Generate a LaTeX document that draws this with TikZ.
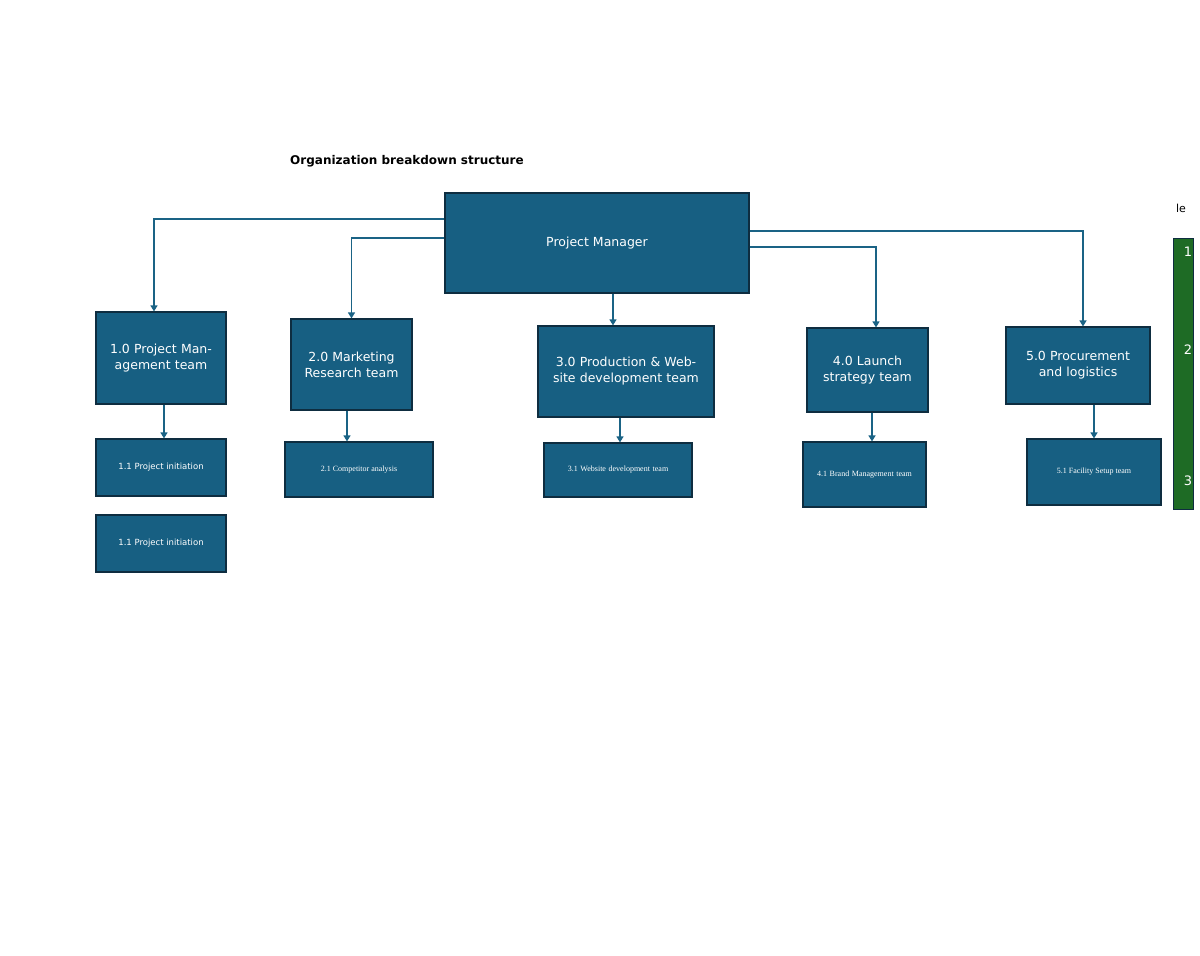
\documentclass[tikz,border=0pt]{standalone}
\usepackage{fontspec}
\setmainfont{DejaVu Sans}
\newfontfamily\serifsmall{Liberation Serif}
\usetikzlibrary{arrows.meta}
\definecolor{boxfill}{HTML}{175F82}
\definecolor{boxline}{HTML}{0E2D40}
\definecolor{conn}{HTML}{1A6385}
\definecolor{barfill}{HTML}{1E6B25}
\begin{document}
\begin{tikzpicture}[x=1pt,y=-1pt,
  box/.style={draw=boxline,line width=1.2pt,fill=boxfill,text=white,align=center,inner sep=0pt},
  arr/.style={draw=conn,line width=1.4pt,-{Triangle[length=6pt,width=7pt]}},
  big/.style={font=\fontsize{12.5}{16}\selectfont},
  sm/.style={font=\fontsize{8.5}{11}\selectfont},
  ser/.style={font=\serifsmall\fontsize{8}{11}\selectfont}]
\useasboundingbox (0,0) rectangle (1200,956);
\newcommand{\bx}[6]{\node[box,#6,minimum width=#4-#2,minimum height=#5-#3,text width=#4-#2-6] (#1) at ({(#2+#4)/2},{(#3+#5)/2}) {};}
\node[font=\bfseries\fontsize{12}{14}\selectfont] (title) at (407,161) {Organization breakdown structure};
\node[box,big,minimum width=304,minimum height=100] (pm) at (597,243) {Project Manager};
\node[box,big,minimum width=130,minimum height=92,text width=124] (a) at (161,358) {1.0 Project Management team};
\node[box,big,minimum width=121,minimum height=91,text width=115] (b) at (351.5,364.5) {2.0 Marketing Research team};
\node[box,big,minimum width=176,minimum height=91,text width=170] (c) at (626,371.5) {3.0 Production \& Website development team};
\node[box,big,minimum width=121,minimum height=84,text width=115] (d) at (867.5,370) {4.0 Launch strategy team};
\node[box,big,minimum width=144,minimum height=77,text width=138] (e) at (1078,365.5) {5.0 Procurement and logistics};
\node[box,sm,minimum width=130,minimum height=57] (a1) at (161,467.5) {1.1 Project initiation};
\node[box,sm,minimum width=130,minimum height=57] (a2) at (161,543.5) {1.1 Project initiation};
\node[box,ser,minimum width=148,minimum height=55] (b1) at (359,469.5) {2.1 Competitor analysis};
\node[box,ser,minimum width=148,minimum height=54,text width=140] (c1) at (618,470) {3.1 Website development team};
\node[box,ser,minimum width=123,minimum height=65,text width=117] (d1) at (864.5,474.5) {4.1 Brand Management team};
\node[box,ser,minimum width=134,minimum height=66] (e1) at (1094,472) {5.1 Facility Setup team};
\node[draw=boxline,line width=1pt,fill=barfill,minimum width=20,minimum height=271,inner sep=0pt] (bar) at (1183,373.5) {};
\node[font=\fontsize{11}{13}\selectfont] (le) at (1181,208) {le};
\begin{scope}
\clip (1173,238) rectangle (1193,509);
\node[text=white,font=\fontsize{13}{15}\selectfont] (n1) at (1188,252) {1};
\node[text=white,font=\fontsize{13}{15}\selectfont] (n2) at (1188,350) {2};
\node[text=white,font=\fontsize{13}{15}\selectfont] (n3) at (1188,481) {3};
\end{scope}
\draw[arr] (pm.west |- 0,219) -| (a.north -| 154,0);
\draw[arr] (pm.west |- 0,238) -| (b.north);
\draw[arr] (pm.south -| 613,0) -- (c.north -| 613,0);
\draw[arr] (pm.east |- 0,247) -| (d.north -| 876,0);
\draw[arr] (pm.east |- 0,231) -| (e.north -| 1083,0);
\draw[arr] (a.south -| 164,0) -- (a1.north -| 164,0);
\draw[arr] (b.south -| 347,0) -- (b1.north -| 347,0);
\draw[arr] (c.south -| 620,0) -- (c1.north -| 620,0);
\draw[arr] (d.south -| 872,0) -- (d1.north -| 872,0);
\draw[arr] (e.south -| 1094,0) -- (e1.north -| 1094,0);
\end{tikzpicture}
\end{document}
